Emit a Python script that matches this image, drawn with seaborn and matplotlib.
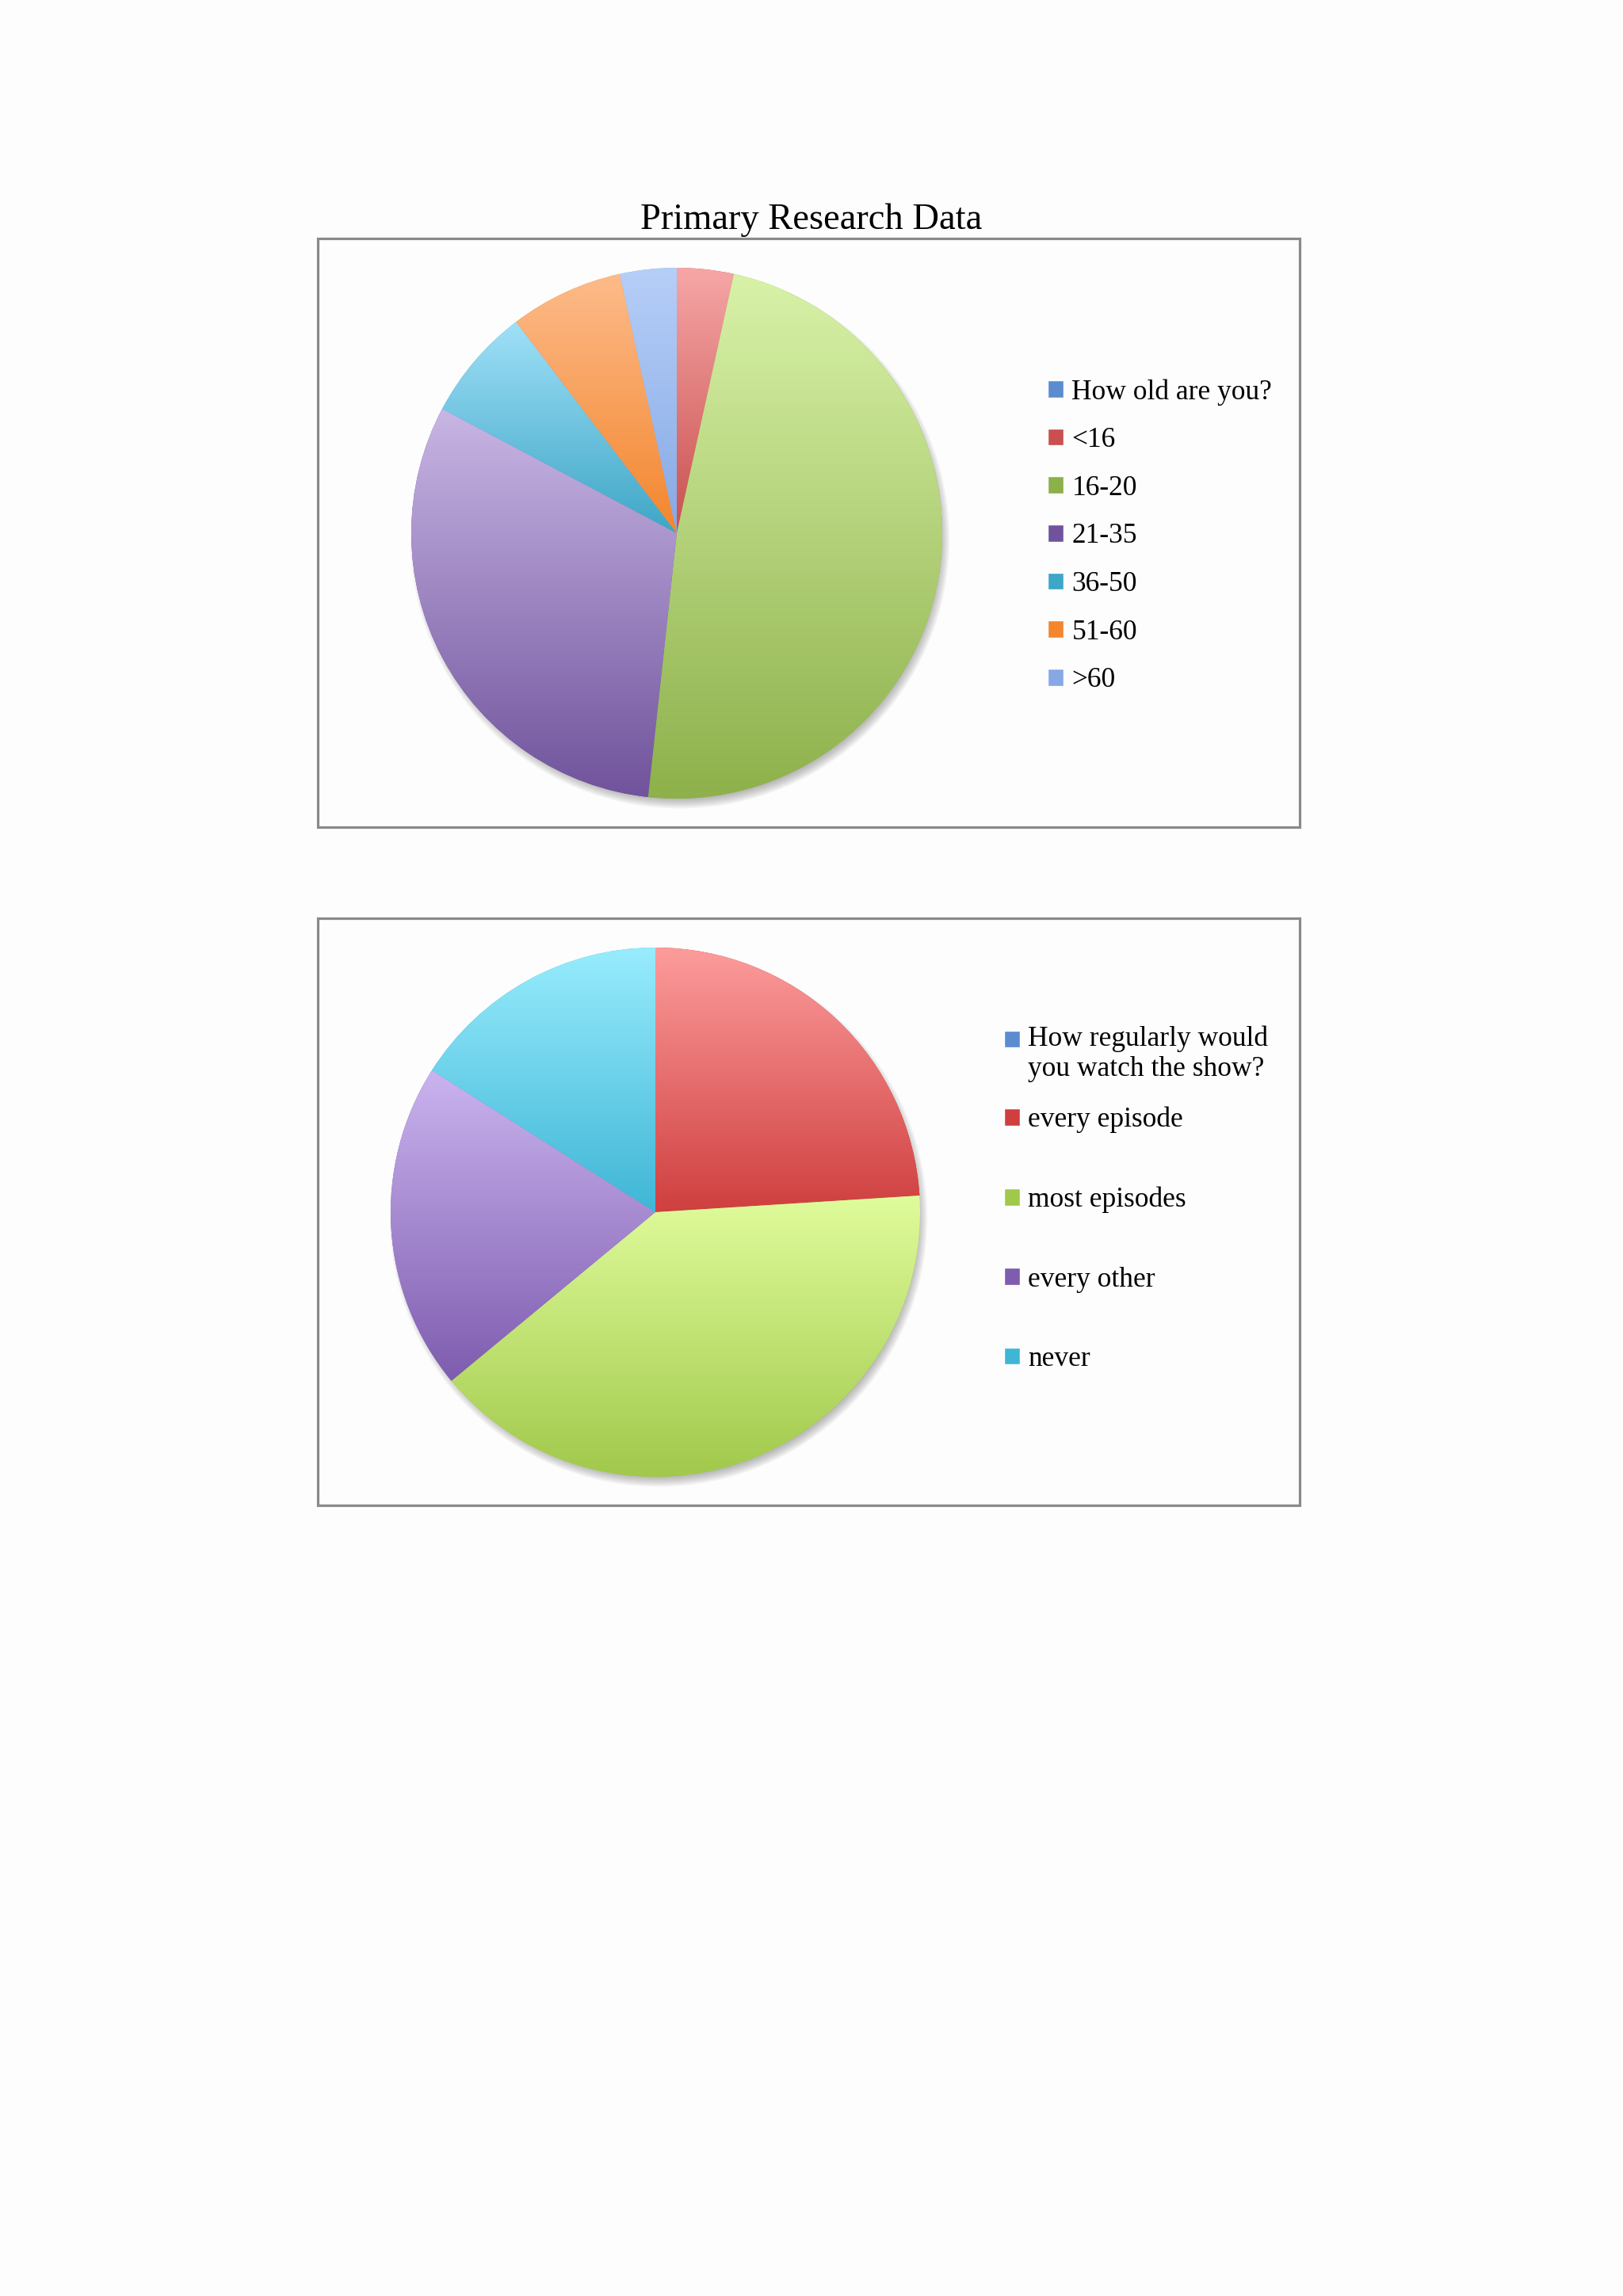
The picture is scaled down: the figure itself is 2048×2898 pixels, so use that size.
import matplotlib.pyplot as plt
import seaborn as sns
import numpy as np
from matplotlib.patches import Rectangle, Circle, Patch
from matplotlib.legend_handler import HandlerPatch
from matplotlib.colors import to_rgb

# DATA
age_question = "How old are you?"
age_groups = ["<16", "16-20", "21-35", "36-50", "51-60", ">60"]
age_counts = [1, 14, 9, 2, 2, 1]

watch_question = "How regularly would\nyou watch the show?"
watch_groups = ["every episode", "most episodes", "every other", "never"]
watch_counts = [6, 10, 5, 4]

title = "Primary Research Data"

# (top colour, bottom colour) for the gradient of each slice
age_colors = [("#f6a6a6", "#c9504f"), ("#d8f2a8", "#8db04a"), ("#c8b6e4", "#70539c"),
              ("#a0e0f8", "#3ea6c6"), ("#fdbb8a", "#f3862e"), ("#b6cff8", "#86a9e4")]
watch_colors = [("#fd9c9c", "#cf3f3f"), ("#e0fc9c", "#a0c84a"),
                ("#cab4ef", "#7e5caf"), ("#98ecfd", "#3fb6d6")]
question_color = "#5b8cd0"

sns.set_style("white")
plt.rcParams["font.family"] = ["Liberation Serif", "DejaVu Serif"]
plt.rcParams["text.color"] = "black"

W, H = 2048, 2898
fig = plt.figure(figsize=(W / 100, H / 100), dpi=100)
fig.patch.set_facecolor("#fdfdfd")

LIM = 1.06


def px_rect(cx, cy, r):
    # square axes centred on (cx, cy) in pixels, pie radius r pixels
    half = r * LIM
    return [(cx - half) / W, 1 - (cy + half) / H, 2 * half / W, 2 * half / H]


# chart frames
for top, bottom in [(301, 1044), (1159, 1900)]:
    fig.patches.append(Rectangle((401 / W, 1 - bottom / H), (1640 - 401) / W, (bottom - top) / H,
                                 transform=fig.transFigure, facecolor="none",
                                 edgecolor="#8a8a8a", linewidth=2.3, zorder=5))

fig.text(1024 / W, 1 - 278 / H, title, ha="center", va="center", fontsize=33.5,
         family=["Liberation Serif"], color="black")


def gradient_pie(ax, values, colors):
    wedges, _ = ax.pie([0] + values, colors=["#ffffff"] + [c[1] for c in colors],
                       startangle=90, counterclock=False, radius=1,
                       wedgeprops=dict(linewidth=0))
    # soft drop shadow
    for i in range(8):
        ax.add_patch(Circle((0.012, -0.022), 1.0 + 0.005 * (i - 4), color="#505050",
                            alpha=0.06, zorder=0, linewidth=0))
    for w, (ctop, cbot) in zip(wedges[1:], colors):
        w.set_zorder(1)
        v = w.get_path().vertices
        a = np.array(to_rgb(cbot))
        b = np.array(to_rgb(ctop))
        t = np.linspace(0, 1, 256)[:, None, None]
        grad = a + (b - a) * t
        im = ax.imshow(grad, extent=[v[:, 0].min(), v[:, 0].max(), v[:, 1].min(), v[:, 1].max()],
                       origin="lower", aspect="auto", interpolation="bilinear", zorder=2)
        im.set_clip_path(w)
    ax.set_xlim(-LIM, LIM)
    ax.set_ylim(-LIM, LIM)
    ax.set_aspect("equal")
    ax.axis("off")
    return wedges


def shifted_patch(dy):
    def make(legend, orig_handle, xdescent, ydescent, width, height, fontsize):
        return Rectangle((-xdescent, -ydescent + dy), width, height)
    return make


leg_kw = dict(frameon=False, borderpad=0, handlelength=0.56, handleheight=0.56,
              handletextpad=0.3, fontsize=25.5, borderaxespad=0)

# top pie: age
ax1 = fig.add_axes(px_rect(854, 673, 335))
w1 = gradient_pie(ax1, age_counts, age_colors)
handles = [Patch(facecolor=question_color)] + [Patch(facecolor=c[1]) for c in age_colors]
ax1.legend(handles, [age_question] + age_groups, loc="upper left",
           bbox_to_anchor=(1322 / W, 1 - 478 / H), bbox_transform=fig.transFigure,
           labelspacing=0.78, **leg_kw)

# bottom pie: watching
ax2 = fig.add_axes(px_rect(827, 1530, 334))
w2 = gradient_pie(ax2, watch_counts, watch_colors)
q_handle = Patch(facecolor=question_color)
leg_a = ax2.legend([q_handle], [watch_question], loc="upper left",
                   bbox_to_anchor=(1267 / W, 1 - 1295 / H), bbox_transform=fig.transFigure,
                   handler_map={q_handle: HandlerPatch(patch_func=shifted_patch(14))},
                   labelspacing=0.2, **leg_kw)
ax2.add_artist(leg_a)
ax2.legend([Patch(facecolor=c[1]) for c in watch_colors], watch_groups, loc="upper left",
           bbox_to_anchor=(1267 / W, 1 - 1397 / H), bbox_transform=fig.transFigure,
           labelspacing=1.9, **leg_kw)

fig.savefig("out.png", dpi=100, facecolor=fig.get_facecolor())
